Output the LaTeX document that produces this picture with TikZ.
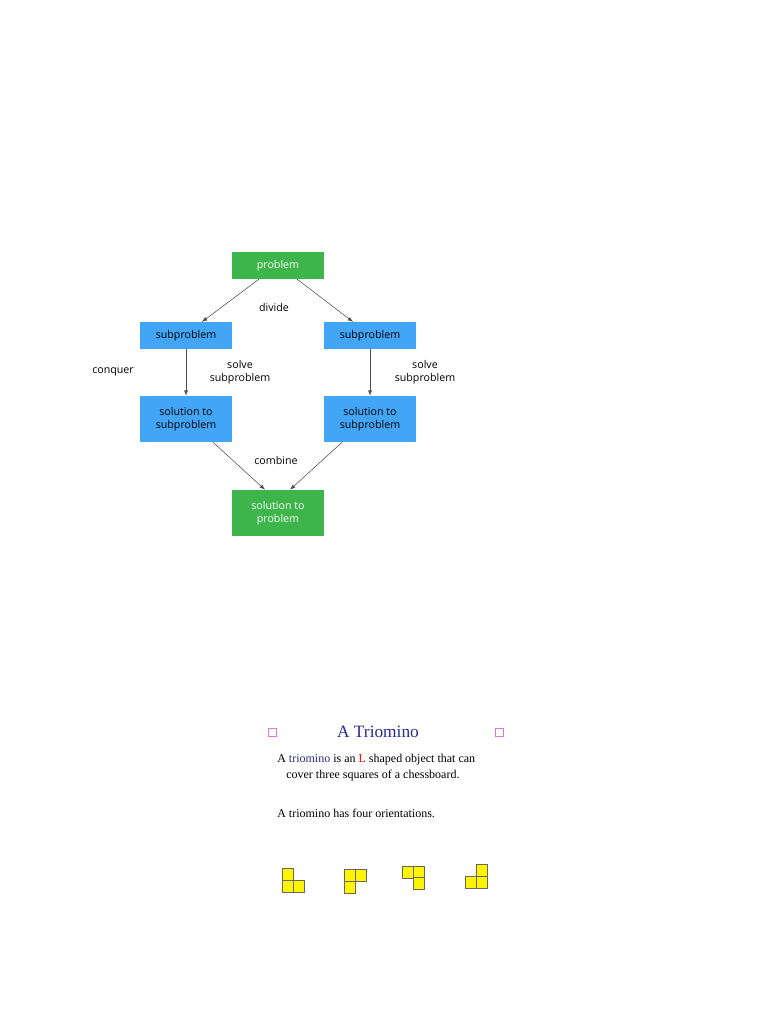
\documentclass[tikz,border=0pt]{standalone}
\usepackage{fontspec}
\setmainfont{Liberation Serif}
\setsansfont{Open Sans}
\usetikzlibrary{positioning}
\definecolor{boxgreen}{RGB}{61,181,74}
\definecolor{boxblue}{RGB}{66,165,245}
\definecolor{titleblue}{RGB}{40,40,150}
\definecolor{markpink}{RGB}{220,120,220}
\definecolor{cellyellow}{RGB}{255,245,0}
\tikzset{
  step/.style={fill=#1, text=white, minimum width=69pt, inner sep=0pt, align=center, font=\sffamily\fontsize{8}{10}\selectfont},
  sub/.style={fill=boxblue, text=black, minimum width=69pt, inner sep=0pt, align=center, font=\sffamily\fontsize{8}{10}\selectfont},
  note/.style={align=center, font=\sffamily\fontsize{8}{10}\selectfont},
  link/.style={draw=black!70, line width=0.4pt, -latex},
  cell/.style={fill=cellyellow, draw=black!60, line width=0.4pt},
}
\begin{document}
\begin{tikzpicture}[x=0.75pt,y=0.75pt,yscale=-1,xscale=1]
\useasboundingbox (0,0) rectangle (768,1024);

% boxes
\node[step=boxgreen, minimum height=20pt] (prob) at (278,265.5) {problem};
\node[sub, minimum height=20pt] (subL) at (186,335.5) {subproblem};
\node[sub, minimum height=20pt] (subR) at (370,335.5) {subproblem};
\node[sub, minimum height=34.5pt] (solL) at (186,419) {solution to\\subproblem};
\node[sub, minimum height=34.5pt] (solR) at (370,419) {solution to\\subproblem};
\node[step=boxgreen, minimum height=34.5pt] (sol) at (278,513) {solution to\\problem};

% labels
\node[note] (divide) at (274,307) {divide};
\node[note] (conquer) at (113,372) {conquer};
\node[note] (solveL) at (240,372) {solve\\subproblem};
\node[note] (solveR) at (425,372) {solve\\subproblem};
\node[note] (combine) at (276,460) {combine};

% connectors
\draw[link] (prob.south) ++(-19,0) coordinate (p1) (p1) -- (subL.north -| 202,0);
\draw[link] (prob.south) ++(19,0) coordinate (p2) (p2) -- (subR.north -| 353,0);
\draw[link] (subL) -- (solL);
\draw[link] (subR) -- (solR);
\draw[link] (solL.south) ++(27,0) coordinate (s1) (s1) -- (sol.north -| 265,0);
\draw[link] (solR.south) ++(-28,0) coordinate (s2) (s2) -- (sol.north -| 290,0);

% triomino slide
\node[text=titleblue, font=\fontsize{13}{15}\selectfont] (title) at (378,732) {A Triomino};
\node[draw=markpink, minimum size=6pt, inner sep=0pt, line width=0.4pt] (markL) at (272,732) {};
\node[draw=markpink, minimum size=6pt, inner sep=0pt, line width=0.4pt] (markR) at (499,732) {};
\node[anchor=west, font=\fontsize{9}{11}\selectfont, inner sep=0pt] (line1) at (277,760)
  {A \textcolor{titleblue}{triomino} is an \textcolor{red}{L} shaped object that can};
\node[anchor=west, font=\fontsize{9}{11}\selectfont, inner sep=0pt] (line2) at (286,776)
  {cover three squares of a chessboard.};
\node[anchor=west, font=\fontsize{9}{11}\selectfont, inner sep=0pt] (line3) at (277,813)
  {A triomino has four orientations.};

% four orientations
\foreach \x/\y in {282/868, 282/880, 293/880,
                   344/869, 355/869, 344/881,
                   402/866, 413/866, 413/877,
                   476/864, 465/876, 476/876}
  \draw[cell] (\x,\y) rectangle ++(11,12);

\end{tikzpicture}
\end{document}
